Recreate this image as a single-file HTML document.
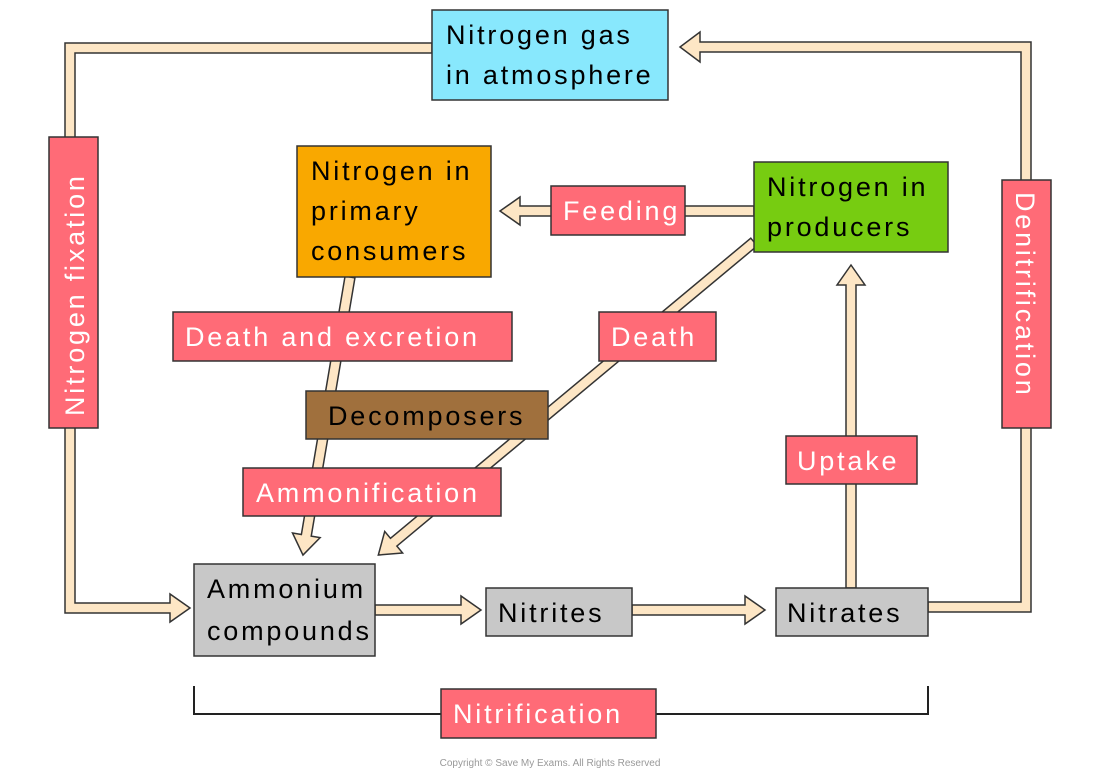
<!DOCTYPE html>
<html><head><meta charset="utf-8"><style>
html,body{margin:0;padding:0;background:#fff;}
svg{display:block;}
text{font-family:"Liberation Sans",sans-serif;font-size:27px;letter-spacing:2.8px;}
.w{fill:#fff;}
</style></head><body>
<svg width="1100" height="772" viewBox="0 0 1100 772" xmlns="http://www.w3.org/2000/svg">
<g fill="#fde6c5" stroke="#333" stroke-width="1.5" stroke-linejoin="miter">
<polygon points="432,43 65,43 65,613 170,613 170,622 190,608 170,594 170,603 75,603 75,53 432,53"/>
<polygon points="928,602 1021,602 1021,52 700,52 700,62 680,47 700,32 700,42 1031,42 1031,612 928,612"/>
<g transform="translate(350,277) rotate(99.6)"><polygon points="0,-5 262,-5 262,-14 282,0 262,14 262,5 0,5"/></g>
<g transform="translate(754,242) rotate(140.2)"><polygon points="0,-5 469,-5 469,-14 489,0 469,14 469,5 0,5"/></g>
<g transform="translate(754,211) rotate(180)"><polygon points="0,-5 234,-5 234,-14 254,0 234,14 234,5 0,5"/></g>
<g transform="translate(851,588) rotate(-90)"><polygon points="0,-5 303,-5 303,-14 323,0 303,14 303,5 0,5"/></g>
<g transform="translate(375,610)"><polygon points="0,-5 86,-5 86,-14 106,0 86,14 86,5 0,5"/></g>
<g transform="translate(632,610)"><polygon points="0,-5 113,-5 113,-14 133,0 113,14 113,5 0,5"/></g>
</g>
<g stroke="#333" stroke-width="1.5">
<rect x="432" y="10" width="236" height="90" fill="#88e8fd"/>
<rect x="297" y="146" width="194" height="131" fill="#f9a800"/>
<rect x="754" y="162" width="194" height="90" fill="#77cc11"/>
<rect x="194" y="564" width="181" height="92" fill="#c8c8c8"/>
<rect x="486" y="588" width="146" height="48" fill="#c8c8c8"/>
<rect x="776" y="588" width="152" height="48" fill="#c8c8c8"/>
<rect x="306" y="391" width="242" height="48" fill="#a0703d"/>
<g fill="#ff6b77">
<rect x="49" y="137" width="49" height="291"/>
<rect x="1002" y="180" width="49" height="248"/>
<rect x="551" y="186" width="134" height="49"/>
<rect x="173" y="312" width="339" height="49"/>
<rect x="599" y="312" width="117" height="49"/>
<rect x="243" y="468" width="258" height="48"/>
<rect x="786" y="436" width="131" height="48"/>
</g>
</g>
<polyline points="194,686 194,714 928,714 928,686" fill="none" stroke="#222" stroke-width="2"/>
<rect x="441" y="689" width="215" height="49" fill="#ff6b77" stroke="#333" stroke-width="1.5"/>
<text x="446" y="44">Nitrogen gas</text>
<text x="446" y="84">in atmosphere</text>
<text x="311" y="180">Nitrogen in</text>
<text x="311" y="220">primary</text>
<text x="311" y="260">consumers</text>
<text x="767" y="196">Nitrogen in</text>
<text x="767" y="236">producers</text>
<text x="207" y="598">Ammonium</text>
<text x="207" y="640">compounds</text>
<text x="498" y="622">Nitrites</text>
<text x="787" y="622">Nitrates</text>
<text x="328" y="425">Decomposers</text>
<text class="w" x="563" y="220">Feeding</text>
<text class="w" x="185" y="346">Death and excretion</text>
<text class="w" x="611" y="346">Death</text>
<text class="w" x="256" y="502">Ammonification</text>
<text class="w" x="797" y="470">Uptake</text>
<text class="w" x="453" y="723">Nitrification</text>
<text class="w" transform="translate(84,416) rotate(-90)">Nitrogen fixation</text>
<text class="w" transform="translate(1016,192) rotate(90)">Denitrification</text>
<text x="550" y="766" text-anchor="middle" style="font-size:10px;letter-spacing:0;fill:#999">Copyright © Save My Exams. All Rights Reserved</text>
</svg>
</body></html>
